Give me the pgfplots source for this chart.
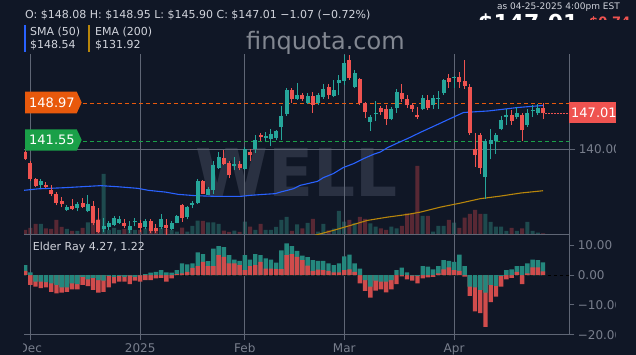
\documentclass[border=0pt]{standalone}
\usepackage{fontspec}
\setmainfont{DejaVu Sans}
\usepackage{pgfplots}
\usepackage{pgfplotstable}
\pgfplotsset{compat=1.18}
\definecolor{bgc}{RGB}{16,23,38}
\definecolor{gridc}{RGB}{95,102,117}
\definecolor{labelc}{RGB}{120,126,140}
\definecolor{textc}{RGB}{209,212,220}
\definecolor{upc}{RGB}{38,166,154}
\definecolor{dnc}{RGB}{239,83,80}
\definecolor{volup}{RGB}{30,74,78}
\definecolor{voldn}{RGB}{88,40,52}
\definecolor{eteal}{RGB}{36,135,125}
\definecolor{ered}{RGB}{208,76,76}
\definecolor{smac}{RGB}{41,98,255}
\definecolor{emac}{RGB}{184,134,11}
\definecolor{orangec}{RGB}{232,89,12}
\definecolor{greenc}{RGB}{26,160,72}
\definecolor{wellc}{RGB}{42,49,66}
\definecolor{wmc}{RGB}{130,135,145}

\pgfplotstableread{
i o h l c
2 133.11 134.14 132.38 133.75
7 128.22 129.16 127.99 128.73
9 128.61 129.65 127.89 129.26
11 127.95 131.02 127.70 129.26
14 124.47 126.52 123.79 125.06
15 124.82 125.94 124.18 125.68
16 125.16 127.01 124.96 126.66
17 125.61 126.91 125.45 126.46
19 124.32 125.94 123.59 125.02
20 125.80 126.52 124.96 126.07
22 124.82 126.33 124.38 125.94
25 124.82 127.30 124.47 126.46
27 124.51 125.94 124.18 125.61
28 125.68 127.11 125.55 126.91
30 126.78 128.96 126.33 128.73
31 129.20 129.84 128.48 129.51
32 129.59 134.24 129.36 133.75
34 131.15 132.64 131.02 132.32
35 132.13 137.66 131.21 136.88
36 136.43 139.41 136.19 138.50
39 136.68 138.50 135.90 137.21
41 136.09 140.45 135.90 140.14
43 140.14 142.87 139.36 141.89
45 142.29 143.38 141.56 142.54
46 142.09 143.91 140.64 143.07
47 142.29 143.71 141.76 143.52
48 144.36 148.46 141.76 146.45
49 146.84 151.86 146.50 151.52
51 149.90 152.83 149.57 150.68
53 149.04 151.00 148.79 150.35
55 148.93 151.00 148.59 150.68
56 150.21 152.64 149.90 151.72
58 150.41 153.48 150.10 151.52
59 152.83 154.45 150.55 153.48
60 153.38 158.40 152.50 156.74
62 152.17 155.43 151.91 154.79
65 145.33 146.78 143.52 146.31
66 146.97 149.38 145.47 147.17
69 145.86 148.26 145.66 147.81
70 148.07 151.72 147.17 151.19
75 147.95 150.68 147.62 150.02
77 148.59 150.55 147.95 150.02
78 149.82 151.33 147.95 149.96
79 150.88 153.67 150.68 153.48
81 153.96 154.32 151.86 154.12
87 134.59 142.09 130.37 141.56
88 141.11 143.91 138.05 141.89
89 141.56 143.26 139.16 142.73
90 143.91 146.50 143.71 145.66
91 146.31 147.95 144.69 146.64
93 146.31 148.26 146.00 147.17
95 144.69 147.95 144.36 147.17
96 147.48 148.73 146.31 147.62
97 147.00 148.75 146.64 148.08
}\tabUp

\pgfplotstableread{
i o h l c
-1 139.47 139.80 137.95 138.18
0 137.36 137.66 133.85 134.14
1 134.14 134.34 132.58 132.87
3 133.11 133.55 132.38 132.64
4 132.13 132.97 130.82 131.35
5 131.31 131.60 129.06 129.55
6 129.84 130.63 128.67 129.26
8 128.93 130.23 128.18 128.34
10 129.59 130.53 128.57 128.73
12 128.87 129.84 125.16 125.61
13 126.13 128.48 123.59 123.85
18 125.68 126.33 124.57 125.02
21 125.61 126.23 123.79 124.71
23 125.94 126.43 123.59 123.98
24 124.71 125.35 123.59 124.04
26 125.16 126.33 123.20 124.71
29 129.06 129.36 125.84 126.58
33 133.75 133.95 131.21 131.35
37 138.38 139.80 136.88 137.21
38 137.32 137.66 134.34 135.06
40 137.21 137.66 135.90 136.35
42 139.47 140.14 137.66 138.83
44 142.73 143.18 141.56 142.40
50 151.52 151.86 149.12 149.90
52 150.68 150.88 149.43 149.71
54 150.35 151.19 147.17 148.59
57 152.17 152.64 149.71 150.55
61 157.38 158.40 153.48 153.93
63 153.67 153.93 148.59 148.93
64 149.12 149.24 146.11 147.29
67 148.14 148.46 146.78 147.29
68 147.81 148.59 144.82 146.00
71 150.88 152.64 149.24 149.77
72 149.90 150.55 148.07 148.73
73 148.73 149.12 147.29 147.95
74 146.64 148.26 145.86 146.31
76 149.57 150.68 147.62 148.07
80 153.81 154.59 151.97 153.14
82 154.00 155.10 151.97 153.03
83 153.28 157.38 151.72 152.36
84 152.17 152.64 142.87 143.26
85 140.00 143.26 136.54 138.83
86 142.87 143.26 135.25 136.35
92 146.64 147.75 144.82 145.53
94 146.78 147.17 141.56 143.71
98 148.08 148.95 145.90 147.01
}\tabDn

\pgfplotstableread{
i v
2 11
7 6
9 4
11 12.7
14 61
15 5
16 7
17 5
19 6.7
20 5
22 6.7
25 7
27 5
28 3.3
30 3.3
31 9
32 14.3
34 12.5
35 12.7
36 11
39 4.3
41 13.3
43 5
45 5
46 5
47 8
48 15
49 18
51 10.5
53 12
55 3.3
56 11
58 6.3
59 24
60 13.3
62 12
65 11.7
66 8.3
69 8.3
70 6.7
75 19
77 3.3
78 9
79 9
81 12.3
87 21
88 13
89 8.3
90 8.3
91 4
93 4
95 13
96 4
97 2.3
}\tabVolUp

\pgfplotstableread{
i v
-1 5
0 7
1 11
3 6.7
4 6
5 15
6 8
8 4
10 7
12 14
13 16
18 6
21 5
23 7
24 5
26 6
29 7.3
33 14
37 4.3
38 3
40 3
42 8.3
44 11
50 4
52 6.7
54 16
57 4.5
61 15
63 18
64 16
67 6.7
68 5
71 9
72 21.7
73 21.7
74 69
76 19
80 15
82 7
83 17.3
84 21
85 25
86 21
92 7
94 6.5
98 1.5
}\tabVolDn

\pgfplotstableread{
i bull bear
-1 3.3 1.4
0 0.9 -3.3
1 -2.2 -3.9
2 -2.2 -4.4
3 -2.4 -4.1
4 -2.8 -5.6
5 -3.3 -6.1
6 -4.1 -5.9
7 -4.1 -5.6
8 -2.8 -4.8
9 -3.0 -4.8
10 -0.6 -3.3
11 -1.4 -3.7
12 -0.9 -5.0
13 -1.7 -5.9
14 -1.9 -5.6
15 -0.3 -4.1
16 -0.6 -2.8
17 -0.3 -2.2
18 -0.6 -2.2
19 -0.2 -3.0
20 -0.6 -1.9
21 -0.1 -2.2
22 0.3 -1.7
23 0.8 -1.7
24 1.1 -1.1
25 1.7 -0.9
26 0.9 -2.2
27 0.8 -1.1
28 1.7 0.3
29 3.9 0.6
30 3.6 1.1
31 3.9 2.4
32 7.6 3.0
33 7.0 4.4
34 4.7 3.0
35 8.9 3.0
36 9.7 6.7
37 9.4 6.1
38 6.7 3.9
39 5.2 3.9
40 4.8 3.3
41 6.7 1.7
42 5.2 3.0
43 7.0 3.3
44 6.7 4.4
45 5.6 2.2
46 5.2 2.2
47 4.2 2.0
48 8.3 2.0
49 10.6 6.7
50 9.7 7.0
51 8.1 6.1
52 6.5 5.0
53 6.0 3.2
54 5.0 1.4
55 4.8 1.8
56 4.8 1.7
57 3.9 1.4
58 3.3 0.9
59 3.9 0.9
60 6.3 1.7
61 6.9 1.9
62 3.9 1.1
63 2.2 -2.8
64 -1.7 -5.3
65 -3.9 -7.6
66 -1.9 -5.2
67 -2.2 -4.8
68 -2.2 -5.8
69 -1.7 -4.8
70 1.7 -3.0
71 2.5 -0.4
72 0.9 -1.4
73 -0.2 -1.9
74 -0.3 -2.8
75 3.0 -1.1
76 2.8 -0.8
77 1.9 -0.6
78 3.0 0.6
79 5.0 1.9
80 4.8 2.6
81 4.4 1.7
82 6.9 1.4
83 3.0 -0.5
84 -3.9 -7.0
85 -4.1 -12.2
86 -5.0 -12.8
87 -5.9 -17.4
88 -3.3 -9.1
89 -3.6 -7.2
90 -0.3 -3.9
91 1.7 -1.4
92 1.9 -0.9
93 3.0 1.1
94 3.0 -3.0
95 3.9 0.6
96 5.2 2.6
97 5.0 2.6
98 4.27 1.22
}\tabElder

\pgfplotstableread{
i v
-1.2 132.0
1.5 132.29
6.7 132.52
13.4 132.91
16.6 132.71
20.6 132.38
22.6 131.99
25.8 131.66
28.3 131.21
31.5 130.96
35.4 130.82
40.2 130.82
42.0 131.02
44.6 131.21
46.8 131.35
47.8 131.66
49.1 131.99
50.3 132.32
51.6 132.97
53.5 133.42
54.9 133.75
56.0 134.47
57.9 135.25
59.8 136.43
61.8 137.21
63.7 138.18
65.6 139.02
66.9 139.47
68.3 140.33
70.2 141.23
72.1 142.09
74.6 143.32
77.1 144.49
80.3 146.00
82.8 147.17
84.7 147.29
87.6 147.48
89.9 147.75
93.1 148.14
96.2 148.40
98.0 148.54
}\tabSMA

\pgfplotstableread{
i v
50.0 121.90
54.8 123.35
57.9 124.18
61.2 125.16
64.4 126.13
68.3 126.78
72.1 127.30
74.6 127.76
78.4 128.73
82.2 129.51
86.0 130.37
89.9 130.88
93.7 131.47
98.0 131.92
}\tabEMA

\begin{document}
\begin{tikzpicture}[x=1pt,y=1pt]
\path[use as bounding box] (0,0) rectangle (636,355);
\clip (0,0) rectangle (636,355);
\fill[bgc] (0,0) rectangle (636,355);

% watermark
\node[anchor=base, text=wellc, font=\fontsize{66}{66}\selectfont\bfseries, inner sep=0pt] at (296.5,158) {WELL};

% volume axis
\begin{axis}[at={(24pt,120pt)}, anchor=south west, width=545.3pt, height=181pt, scale only axis,
  xmin=-1.204, xmax=103.02, ymin=0, ymax=181, hide axis]
\addplot[ybar, bar width=4pt, bar shift=0pt, fill=volup, draw=none] table[x=i,y=v] \tabVolUp;
\addplot[ybar, bar width=4pt, bar shift=0pt, fill=voldn, draw=none] table[x=i,y=v] \tabVolDn;
\end{axis}

% main price axis
\begin{axis}[at={(24pt,120pt)}, anchor=south west, width=545.3pt, height=181pt, scale only axis,
  xmin=-1.204, xmax=103.02, ymin=123.29, ymax=158.58,
  axis x line*=bottom, axis y line*=right,
  axis line style={draw=gridc, line width=1pt},
  xtick={0,21,41,60,81}, xticklabels={},
  xtick style={draw=none},
  ytick={140}, yticklabels={140.00},
  ytick style={draw=gridc, line width=1pt},
  tick align=outside, major tick length=6pt,
  yticklabel style={text=labelc, font=\fontsize{12}{12}\selectfont},
  xmajorgrids, ymajorgrids,
  grid style={draw=gridc, line width=1pt}]
\addplot[draw=orangec, line width=1pt, dash pattern=on 4pt off 3pt] coordinates {(-2,148.97) (104,148.97)};
\addplot[draw=greenc, line width=1pt, dash pattern=on 4pt off 3pt] coordinates {(-2,141.55) (104,141.55)};
\addplot[draw=dnc, line width=1pt, dash pattern=on 1.5pt off 1.5pt] coordinates {(98.4,147.01) (104,147.01)};
\addplot[draw=smac, line width=1.1pt] table[x=i,y=v] \tabSMA;
\addplot[draw=emac, line width=1.1pt] table[x=i,y=v] \tabEMA;
% wicks
\addplot[draw=none, mark=none, error bars/.cd, y dir=plus, y explicit, error mark=none,
  error bar style={draw=upc, line width=1pt, solid}]
  table[x=i, y=l, y error plus expr=\thisrow{h}-\thisrow{l}] \tabUp;
\addplot[draw=none, mark=none, error bars/.cd, y dir=plus, y explicit, error mark=none,
  error bar style={draw=dnc, line width=1pt, solid}]
  table[x=i, y=l, y error plus expr=\thisrow{h}-\thisrow{l}] \tabDn;
% bodies
\addplot[draw=none, mark=none, error bars/.cd, y dir=plus, y explicit, error mark=none,
  error bar style={draw=upc, line width=4pt, solid}]
  table[x=i, y=o, y error plus expr={max(\thisrow{c}-\thisrow{o},0.2)}] \tabUp;
\addplot[draw=none, mark=none, error bars/.cd, y dir=plus, y explicit, error mark=none,
  error bar style={draw=dnc, line width=4pt, solid}]
  table[x=i, y=c, y error plus expr={max(\thisrow{o}-\thisrow{c},0.2)}] \tabDn;
\end{axis}

% Elder Ray axis
\begin{axis}[at={(24pt,20pt)}, anchor=south west, width=545.3pt, height=100pt, scale only axis,
  xmin=-1.204, xmax=103.02, ymin=-20.1, ymax=13.45,
  axis x line*=bottom, axis y line*=right,
  axis line style={draw=gridc, line width=1pt},
  xtick={0,21,41,60,81}, xticklabels={Dec,2025,Feb,Mar,Apr},
  ytick={-20,-10,0,10}, yticklabels={−20.00,−10.00,0.00,10.00},
  tick align=outside, major tick length=5pt,
  tick style={draw=gridc, line width=1pt},
  ticklabel style={text=labelc, font=\fontsize{12}{12}\selectfont},
  xmajorgrids, grid style={draw=gridc, line width=1pt}]
\addplot[draw=black, line width=1pt, dash pattern=on 3pt off 3pt] coordinates {(-2,0) (104,0)};
\addplot[ybar, bar width=4.4pt, bar shift=0pt, fill=eteal, draw=none] table[x=i,y=bull] \tabElder;
\addplot[ybar, bar width=4.4pt, bar shift=0pt, fill=ered, draw=none] table[x=i,y=bear] \tabElder;
\addplot[ybar, bar width=4.4pt, bar shift=0pt, fill=eteal, draw=none] table[x=i,y expr={min(\thisrow{bull},0)}] \tabElder;
\end{axis}

% clip covers
\fill[bgc] (616,15) rectangle (636,302);
\fill[bgc] (0,0) rectangle (23,20);

% header texts
\node[anchor=base west, inner sep=0pt, text=textc, font=\fontsize{11}{11}\selectfont] at (25,336) {O: \$148.08 H: \$148.95 L: \$145.90 C: \$147.01 −1.07 (−0.72\%)};
\fill[smac] (24,330) rectangle (26.3,303);
\fill[emac] (87.5,330) rectangle (89.8,303);
\node[anchor=base west, inner sep=0pt, text=textc, font=\fontsize{11}{11}\selectfont] at (30,319.5) {SMA (50)};
\node[anchor=base west, inner sep=0pt, text=textc, font=\fontsize{11}{11}\selectfont] at (30,306) {\$148.54};
\node[anchor=base west, inner sep=0pt, text=textc, font=\fontsize{11}{11}\selectfont] at (95,319.5) {EMA (200)};
\node[anchor=base west, inner sep=0pt, text=textc, font=\fontsize{11}{11}\selectfont] at (95,306) {\$131.92};
\node[anchor=base west, inner sep=0pt, text=wmc, font=\fontsize{24}{24}\selectfont] at (246,305.5) {finquota.com};
\node[anchor=base east, inner sep=0pt, text=textc, font=\fontsize{9}{9}\selectfont] at (620,345.5) {as 04-25-2025 4:00pm EST};
\begin{scope}
\clip (470,335) rectangle (636,341);
\node[anchor=base west, inner sep=0pt, text=white, font=\fontsize{22}{22}\selectfont\bfseries] at (478,324) {\$147.01};
\node[anchor=base west, inner sep=0pt, text=dnc, font=\fontsize{13}{13}\selectfont\bfseries] at (589,328) {\$0.74};
\end{scope}

% price labels
\fill[orangec] (25,263.3) -- (76.7,263.3) -- (81.7,252.5) -- (76.7,241.7) -- (25,241.7) -- cycle;
\node[anchor=base west, inner sep=0pt, text=white, font=\fontsize{13}{13}\selectfont] at (29,247.8) {148.97};
\fill[greenc] (25,225.7) -- (76.7,225.7) -- (81.7,215) -- (76.7,204.3) -- (25,204.3) -- cycle;
\node[anchor=base west, inner sep=0pt, text=white, font=\fontsize{13}{13}\selectfont] at (29,210.3) {141.55};
\fill[dnc] (569.3,253) rectangle (616,232);
\node[anchor=base west, inner sep=0pt, text=white, font=\fontsize{13}{13}\selectfont] at (571,237.8) {147.01};

\node[anchor=base west, inner sep=0pt, text=textc, font=\fontsize{11}{11}\selectfont] at (32.7,104) {Elder Ray 4.27, 1.22};
\end{tikzpicture}
\end{document}
